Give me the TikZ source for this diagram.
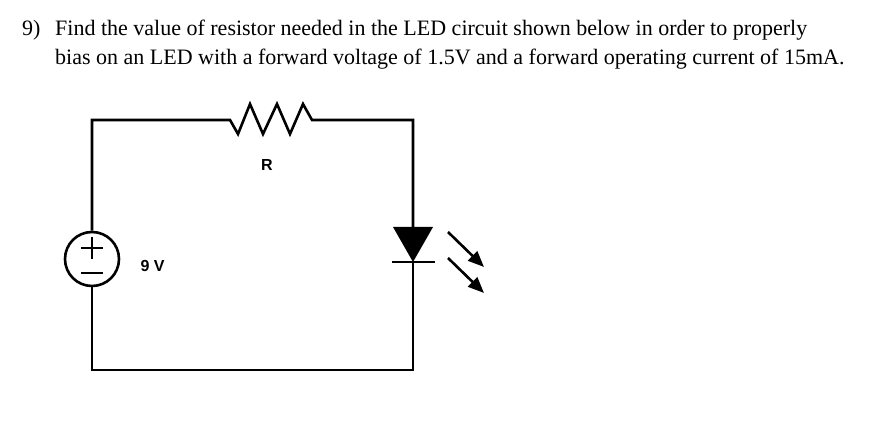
\documentclass[tikz,border=0pt]{standalone}
\usepackage{fontspec}
\setmainfont{Liberation Serif}
\newfontfamily\sansf{Liberation Sans}
\usetikzlibrary{arrows.meta}
\begin{document}
\begin{tikzpicture}[x=1pt,y=-1pt,
  wire/.style={line width=2.6pt},
  lbl/.style={font=\sansf\bfseries\fontsize{16}{18}\selectfont},
  txt/.style={font=\fontsize{22}{24}\selectfont,anchor=base west,inner sep=0}]
\useasboundingbox (0,0) rectangle (879,435);
\node[txt] (n9) at (22,36) {9)};
\node[txt] (l1) at (55,36) {Find the value of resistor needed in the LED circuit shown below in order to properly};
\node[txt] (l2) at (55,65) {bias on an LED with a forward voltage of 1.5V and a forward operating current of 15mA.};
\coordinate (tl) at (92,120);
\coordinate (tr) at (413,120);
\coordinate (bl) at (92,370);
\coordinate (br) at (413,370);
\coordinate (r1) at (230,120);
\coordinate (r2) at (312,120);
\node[circle,draw,line width=2.6pt,minimum size=54pt,inner sep=0] (src) at (92,259) {};
\draw[wire] (src.north) -- (tl) -- (r1) -- (238,134) -- (250,104) -- (263,134) -- (277,104) -- (290,134) -- (303,104) -- (r2) -- (tr) -- (413,227);
\draw[wire] (src.south) -- (bl) -- (br) -- (413,262);
\fill (393,227) -- (433,227) -- (413,262) -- cycle;
\draw[wire] (392,262) -- (435,262);
\draw[line width=2pt] (81,248) -- (103,248) (92,237) -- (92,259) (81,273) -- (103,273);
\node[lbl] (R) at (267,165) {R};
\node[lbl,anchor=west] (V) at (137,266) {9 V};
\draw[line width=2.6pt,-{Triangle[length=16pt,width=13pt]}] (448,232) -- (484,267);
\draw[line width=2.6pt,-{Triangle[length=16pt,width=13pt]}] (448,258) -- (484,293);
\end{tikzpicture}
\end{document}
